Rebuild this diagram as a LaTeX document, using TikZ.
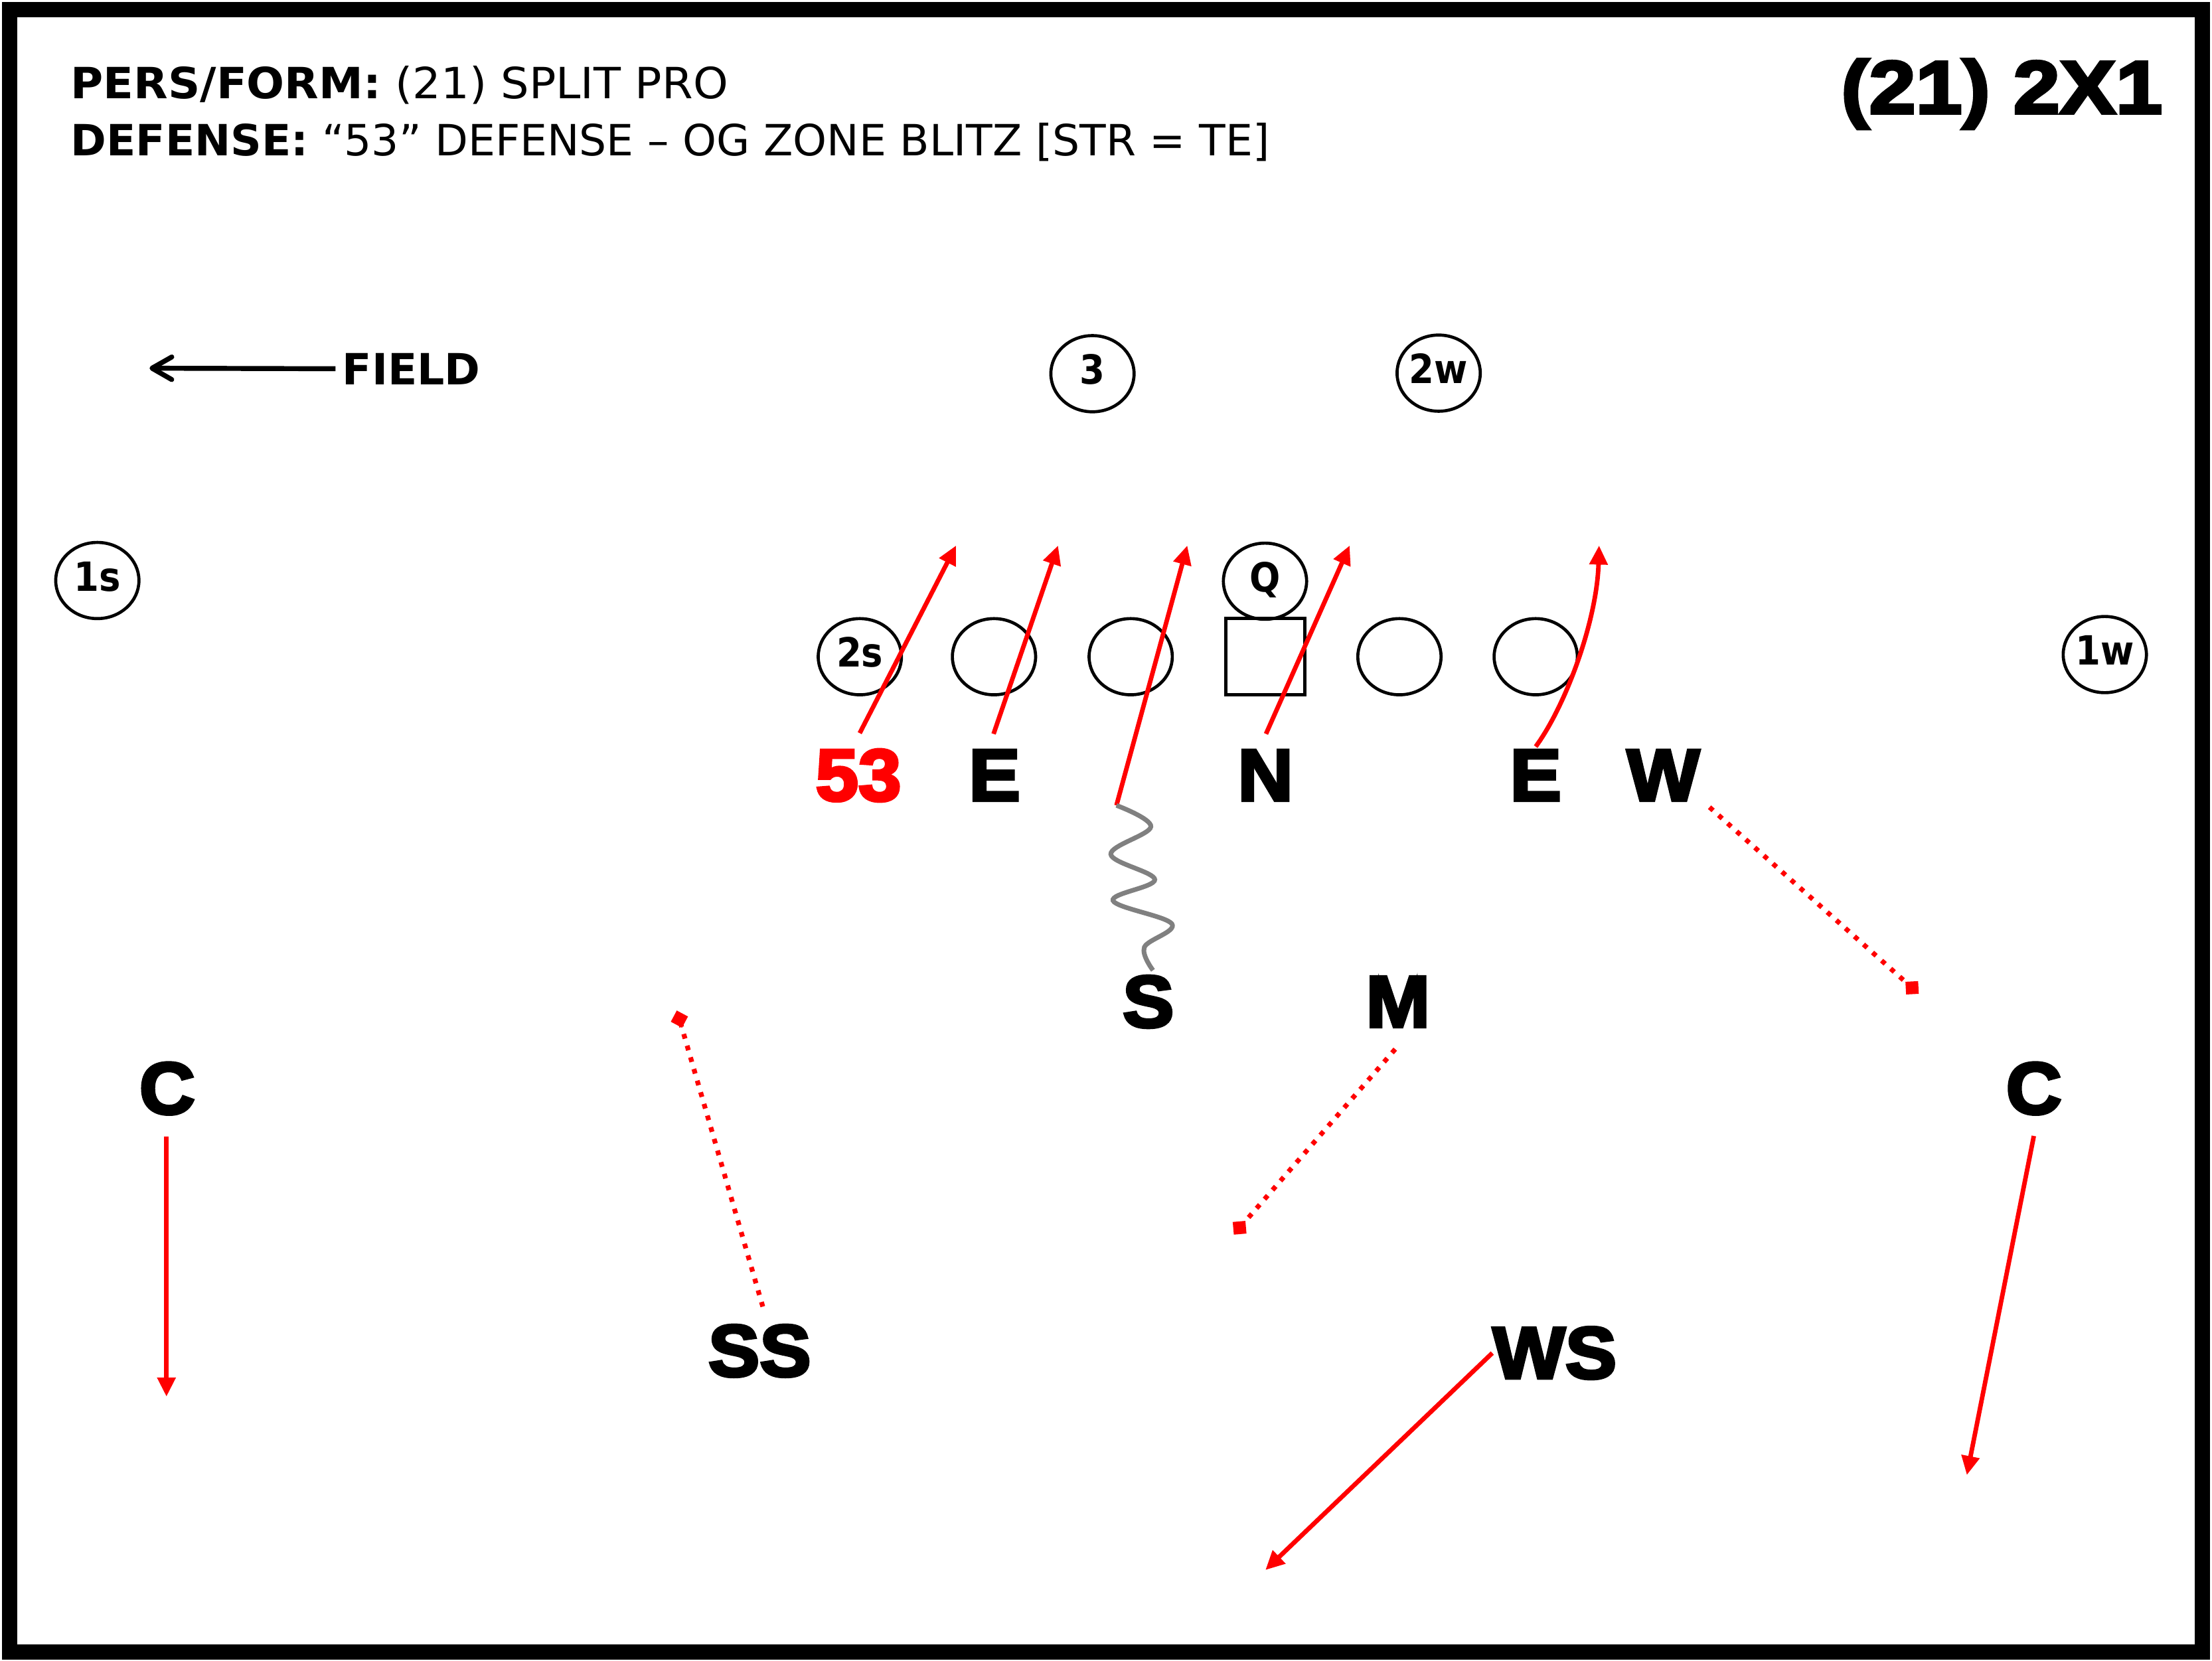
\documentclass[tikz,border=0pt]{standalone}
\usepackage{fontspec}
\setmainfont{DejaVu Sans}
\newfontfamily\hdr{DejaVu Sans}
\newfontfamily\hdrw[FakeStretch=1.035]{DejaVu Sans}
\newfontfamily\offf[FakeStretch=0.9]{DejaVu Sans}
\newfontfamily\heavy[FakeBold=4,FakeStretch=1.05]{Liberation Sans Bold}
\newfontfamily\heavyw[FakeBold=4,FakeStretch=1.12]{Liberation Sans Bold}
\usetikzlibrary{arrows.meta,shapes.geometric,calc}
\definecolor{wavygray}{RGB}{128,128,128}
\tikzset{
  off/.style={ellipse, draw, line width=2.2pt, minimum width=59pt, minimum height=54pt,
    inner sep=0pt, text height=14.8pt, text depth=0pt,
    font=\offf\bfseries\fontsize{28.5}{30}\selectfont},
  lineman/.style={ellipse, draw, line width=2.2pt, minimum width=59pt, minimum height=54pt, inner sep=0pt},
  center sq/.style={rectangle, draw, line width=2.2pt, minimum width=56pt, minimum height=54pt, inner sep=0pt},
  def/.style={font=\heavy\fontsize{52}{56}\selectfont, inner sep=0pt, anchor=base},
  blitz/.style={red, line width=3.2pt, -{Triangle[length=13.5pt,width=12.5pt]}},
  zone/.style={red, line width=3.4pt, dash pattern=on 3.4pt off 5.2pt},
  endsq/.style={fill=red, minimum size=9pt, inner sep=0pt},
  fieldarrow/.style={line width=3.5pt, -{Straight Barb[length=14pt,width=16pt,round]}},
  wavy/.style={color=wavygray, line width=3.3pt}
}
\begin{document}
\begin{tikzpicture}[x=1pt,y=-1pt]
\useasboundingbox (0,0) rectangle (1568,1177.4);
\fill[white] (0,0) rectangle (1568,1177.4);
\draw[line width=10.8pt] (6.8,6.8) rectangle (1561.2,1171.1);

% header
\node[anchor=base west, inner sep=0pt, font=\hdrw\fontsize{30.5}{36}\selectfont] (title1) at (50,70)
  {\textbf{PERS/FORM:} (21) SPLIT PRO};
\node[anchor=base west, inner sep=0pt, font=\hdr\fontsize{30.5}{36}\selectfont] (title2) at (50,110.5)
  {\textbf{DEFENSE:} “53” DEFENSE – OG ZONE BLITZ [STR = TE]};
\node[anchor=base east, inner sep=0pt, font=\heavyw\fontsize{53}{60}\selectfont] (form) at (1533,80.3) {(21) 2X1};

% field arrow
\node[anchor=base west, inner sep=0pt, font=\hdr\bfseries\fontsize{30.5}{36}\selectfont] (field) at (242.6,272.5) {FIELD};
\coordinate (fieldtip) at (106,261);
\draw[fieldarrow] ([xshift=-4.8pt]field.west) -- (fieldtip);

% offense
\node[off] (o3) at (774.4,264.9) {3};
\node[off] (o2w) at (1019.8,264.5) {2w};
\node[off] (o1s) at (69,411.5) {1s};
\node[off] (oq) at (896.7,412) {Q};
\node[off] (o2s) at (609.5,465.5) {2s};
\node[lineman] (lt) at (704.6,465.5) {};
\node[lineman] (lg) at (801.5,465.5) {};
\node[center sq] (ctr) at (897,465.5) {};
\node[lineman] (rg) at (992,465.5) {};
\node[lineman] (rt) at (1088.6,465.5) {};
\node[off] (o1w) at (1492,464) {1w};

% defense
\node[def, text=red] (d53) at (608.5,567.5) {53};
\node[def] (dE1) at (705,567.5) {E};
\node[def] (dN) at (897,567.5) {N};
\node[def] (dE2) at (1088.6,567.5) {E};
\node[def] (dW) at (1179,567.5) {W};
\node[def] (dS) at (814,728) {S};
\node[def] (dM) at (991,728) {M};
\node[def] (dC1) at (118.5,789.5) {C};
\node[def] (dC2) at (1441.7,789.5) {C};
\node[def] (dSS) at (538.5,975.5) {SS};
\node[def] (dWS) at (1102,977) {WS};

% blitz arrows
\coordinate (t53) at (677.7,386.7);
\coordinate (tE1) at (750,386.7);
\coordinate (sS) at (791.4,570.9);
\coordinate (tS) at (841.6,386.7);
\coordinate (tN) at (956.7,386.7);
\coordinate (tE2) at (1133.5,386.7);
\draw[blitz] ([xshift=0.9pt,yshift=11.3pt]d53.north) -- (t53);
\draw[blitz] ([xshift=-0.7pt,yshift=11.3pt]dE1.north) -- (tE1);
\draw[blitz] (sS) -- (tS);
\draw[blitz] ([xshift=0.4pt,yshift=11.3pt]dN.north) -- (tN);
\draw[blitz] ([yshift=2.3pt]dE2.north) .. controls (1110,500) and (1132,440) .. (tE2);

% S wiggle
\draw[wavy] plot[smooth, tension=0.6] coordinates {(791.4,570.9) (815.8,586) (787.4,605.5) (818.6,623.5) (789,638.4) (830.7,654.9) (811.2,671.4) (817.3,687.8)};

% zone drops
\coordinate (sW) at (1211.8,572.2);
\node[endsq, rotate=3] (qW) at (1355.4,700.2) {};
\draw[zone] (sW) -- (qW.center);
\node[endsq, rotate=5] (qM) at (878.7,870.3) {};
\draw[zone] ([xshift=-2pt,yshift=-15.5pt]dM.south) -- (qM.center);
\node[endsq, rotate=-28] (qSS) at (481.6,722.4) {};
\draw[zone] ([xshift=2.2pt,yshift=12.8pt]dSS.north) -- (qSS.center);

% deep coverage
\coordinate (tC1) at (118,990);
\coordinate (tC2) at (1394.2,1045.6);
\coordinate (tWS) at (897,1112.9);
\draw[blitz] ([xshift=-0.5pt,yshift=-15.5pt]dC1.south) -- (tC1);
\draw[blitz] ([yshift=-15pt]dC2.south) -- (tC2);
\draw[blitz] (dWS.west) -- (tWS);
\end{tikzpicture}
\end{document}
